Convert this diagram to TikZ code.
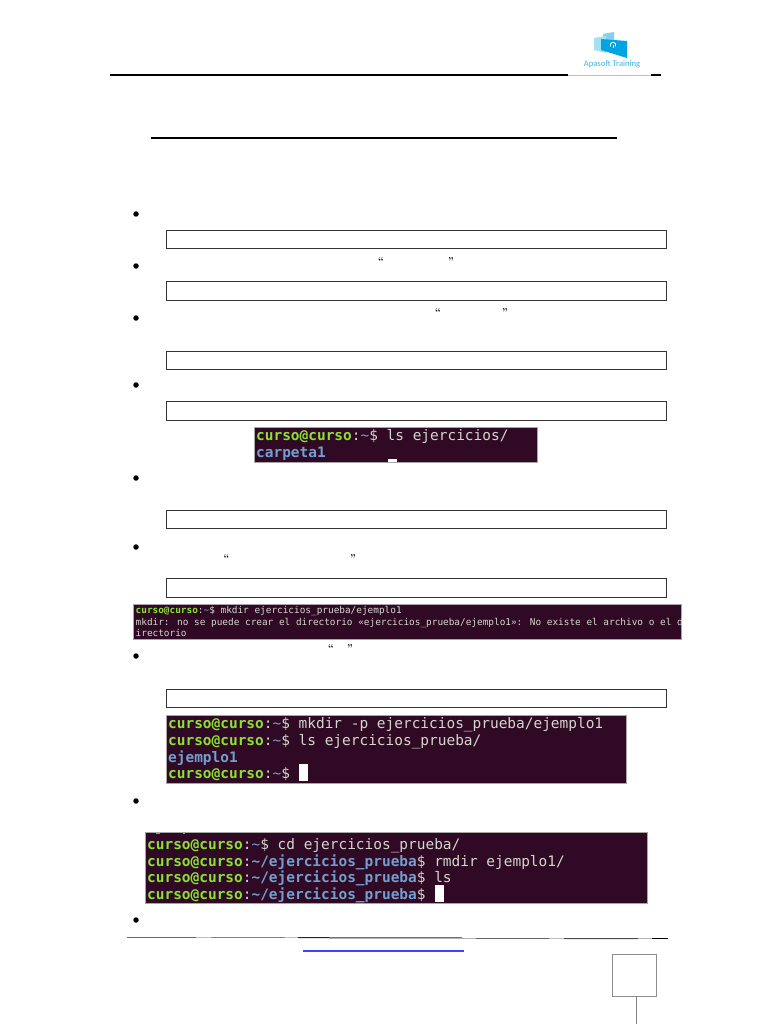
\documentclass[tikz,border=0pt]{standalone}
\usepackage{fontspec}
\newfontfamily\termfont{DejaVu Sans Mono}
\newfontfamily\logofont{Carlito}
\definecolor{termbg}{HTML}{300A24}
\definecolor{termgreen}{HTML}{8AE234}
\definecolor{termblue}{HTML}{729FCF}
\definecolor{termwhite}{HTML}{D3D7CF}
\definecolor{logoblue}{HTML}{00A4E4}
\definecolor{logolight}{HTML}{7FD3F0}
\definecolor{logotext}{HTML}{3DB4E0}
\newcommand{\usr}{\textcolor{termgreen}{\textbf{curso@curso}}\textcolor{termwhite}{:}}
\newcommand{\hm}{\usr\textcolor{termblue}{\textasciitilde}\textcolor{termwhite}{\$}}
\newcommand{\pr}{\usr\textcolor{termblue}{\textbf{\textasciitilde/ejercicios\_prueba}}\textcolor{termwhite}{\$}}
\tikzset{
    cmdbox/.style={draw=black!80, line width=0.9pt, minimum width=499.5pt, minimum height=18.5pt, inner sep=0pt},
    bullet/.style={circle, fill=black, minimum size=5.5pt, inner sep=0pt},
    quotemark/.style={inner sep=0pt, font=\bfseries\fontsize{10}{10}\selectfont},
    termbox/.style={fill=termbg, draw=black!35, line width=0.6pt, inner sep=0pt},
    termline/.style={anchor=base west, inner sep=0pt, text=termwhite, font=\termfont\fontsize{14.45}{17}\selectfont},
    termsmall/.style={anchor=base west, inner sep=0pt, text=termwhite, font=\termfont\fontsize{9.4}{11}\selectfont},
    footline/.style={line width=1pt}
}
\begin{document}
\begin{tikzpicture}[x=1pt,y=-1pt]
    \useasboundingbox (0,0) rectangle (768,1024);

    \coordinate (headL) at (110,75);
    \coordinate (headR) at (661,75);
    \coordinate (titleL) at (151,138);
    \coordinate (titleR) at (617,138);

    \draw[line width=2pt] (headL) -- (headR);
    \draw[line width=2pt] (titleL) -- (titleR);

    \fill[white] (568,28) rectangle (650.5,75.6);
    \draw[black!25, line width=0.5pt] (568,75.6) -- (650.5,75.6);
    \fill[logolight] (603,34) -- (614,32) -- (614,41) -- (603,41) -- cycle;
    \fill[logolight!70] (594,38) -- (606,36) -- (606,53) -- (594,50) -- cycle;
    \fill[logoblue] (601,39) -- (627,41) -- (627,58) -- (601,50) -- cycle;
    \draw[white, line width=0.8pt] (613,45.5) -- (613,48);
    \draw[white, line width=0.8pt] (610.6,46.5) arc (150:390:2.8);
    \node[inner sep=0pt, text=logotext, font=\logofont\fontsize{8.6}{9}\selectfont] (logotxt) at (612,64) {Apasoft Training};

    \node[bullet] (b1) at (136,214) {};
    \node[bullet] (b2) at (136,266) {};
    \node[bullet] (b3) at (136,318) {};
    \node[bullet] (b4) at (136,385) {};
    \node[bullet] (b5) at (136,478) {};
    \node[bullet] (b6) at (136,547) {};
    \node[bullet] (b7) at (136,656) {};
    \node[bullet] (b8) at (136,801) {};
    \node[bullet] (b9) at (136,920) {};

    \node[cmdbox] (box1) at (416.3,239.5) {};
    \node[cmdbox] (box2) at (416.3,291) {};
    \node[cmdbox] (box3) at (416.3,360.5) {};
    \node[cmdbox] (box4) at (416.3,411) {};
    \node[cmdbox] (box5) at (416.3,519.5) {};
    \node[cmdbox] (box6) at (416.3,588) {};
    \node[cmdbox] (box7) at (416.3,698.5) {};

    \node[quotemark] (q1) at (381,261) {“};
    \node[quotemark] (q2) at (451,261) {”};
    \node[quotemark] (q3) at (438,312) {“};
    \node[quotemark] (q4) at (505,312) {”};
    \node[quotemark] (q5) at (226.5,558) {“};
    \node[quotemark] (q6) at (353,558) {”};
    \node[quotemark] (q7) at (331,648) {“};
    \node[quotemark] (q8) at (350,648) {”};

    \node[termbox, minimum width=283pt, minimum height=35pt] (term1) at (395.5,444.5) {};
    \node[termline] (t1a) at (256,440) {\hm{} ls ejercicios/};
    \node[termline, text=termblue] (t1b) at (256,457) {\textbf{carpeta1}};
    \fill[white] (387.5,458.5) rectangle (397,462);

    \node[termbox, minimum width=548pt, minimum height=35pt] (term2) at (407,621.5) {};
    \node[termsmall] (t2a) at (135.5,613) {\hm{} mkdir ejercicios\_prueba/ejemplo1};
    \node[termsmall] (t2b) at (135.5,625) {mkdir: no se puede crear el directorio «ejercicios\_prueba/ejemplo1»: No existe el archivo o el d};
    \node[termsmall] (t2c) at (135.5,636) {irectorio};

    \node[termbox, minimum width=459.5pt, minimum height=68pt] (term3) at (396.3,749) {};
    \node[termline] (t3a) at (168,728) {\hm{} mkdir -p ejercicios\_prueba/ejemplo1};
    \node[termline] (t3b) at (168,745) {\hm{} ls ejercicios\_prueba/};
    \node[termline, text=termblue] (t3c) at (168,762) {\textbf{ejemplo1}};
    \node[termline] (t3d) at (168,778) {\hm};
    \fill[white] (299,764) rectangle (308,781);

    \node[termbox, minimum width=502pt, minimum height=71pt] (term4) at (396,867.5) {};
    \fill[termblue] (156,832.5) rectangle (160,834);
    \fill[termblue] (183,832.5) rectangle (185,834);
    \node[termline] (t4a) at (147,849) {\hm{} cd ejercicios\_prueba/};
    \node[termline] (t4b) at (147,866) {\pr{} rmdir ejemplo1/};
    \node[termline] (t4c) at (147,882) {\pr{} ls};
    \node[termline] (t4d) at (147,899) {\pr};
    \fill[white] (435,885) rectangle (444,902);

    \draw[footline, black!60] (127,937) -- (196,937);
    \draw[footline, black!25] (196,937.3) -- (211,937.3);
    \draw[footline, black!50] (211,937.5) -- (285,937.5);
    \draw[footline, black!25] (285,937.6) -- (298,937.6);
    \draw[footline, black!85] (298,937.7) -- (462,937.9);
    \draw[footline, black!30] (462,938) -- (476,938);
    \draw[footline, black!60] (476,938.2) -- (549,938.2);
    \draw[footline, black!25] (549,938.3) -- (564,938.3);
    \draw[footline, black!70] (564,938.5) -- (638,938.6);
    \draw[footline, black!30] (638,938.7) -- (652,938.7);
    \draw[line width=1.1pt] (652,938.8) -- (668,938.8);

    \coordinate (linkL) at (303,951);
    \coordinate (linkR) at (464,951);
    \draw[draw=blue!75!white, line width=1.3pt] (linkL) -- (linkR);

    \node[draw=black!45, line width=0.9pt, minimum width=44.5pt, minimum height=42pt, inner sep=0pt] (pagebox) at (634.5,975) {};
    \coordinate (pagefoot) at (636,1024);
    \draw[black!50, line width=0.8pt] (pagebox.south -| pagefoot) -- (pagefoot);
\end{tikzpicture}
\end{document}
